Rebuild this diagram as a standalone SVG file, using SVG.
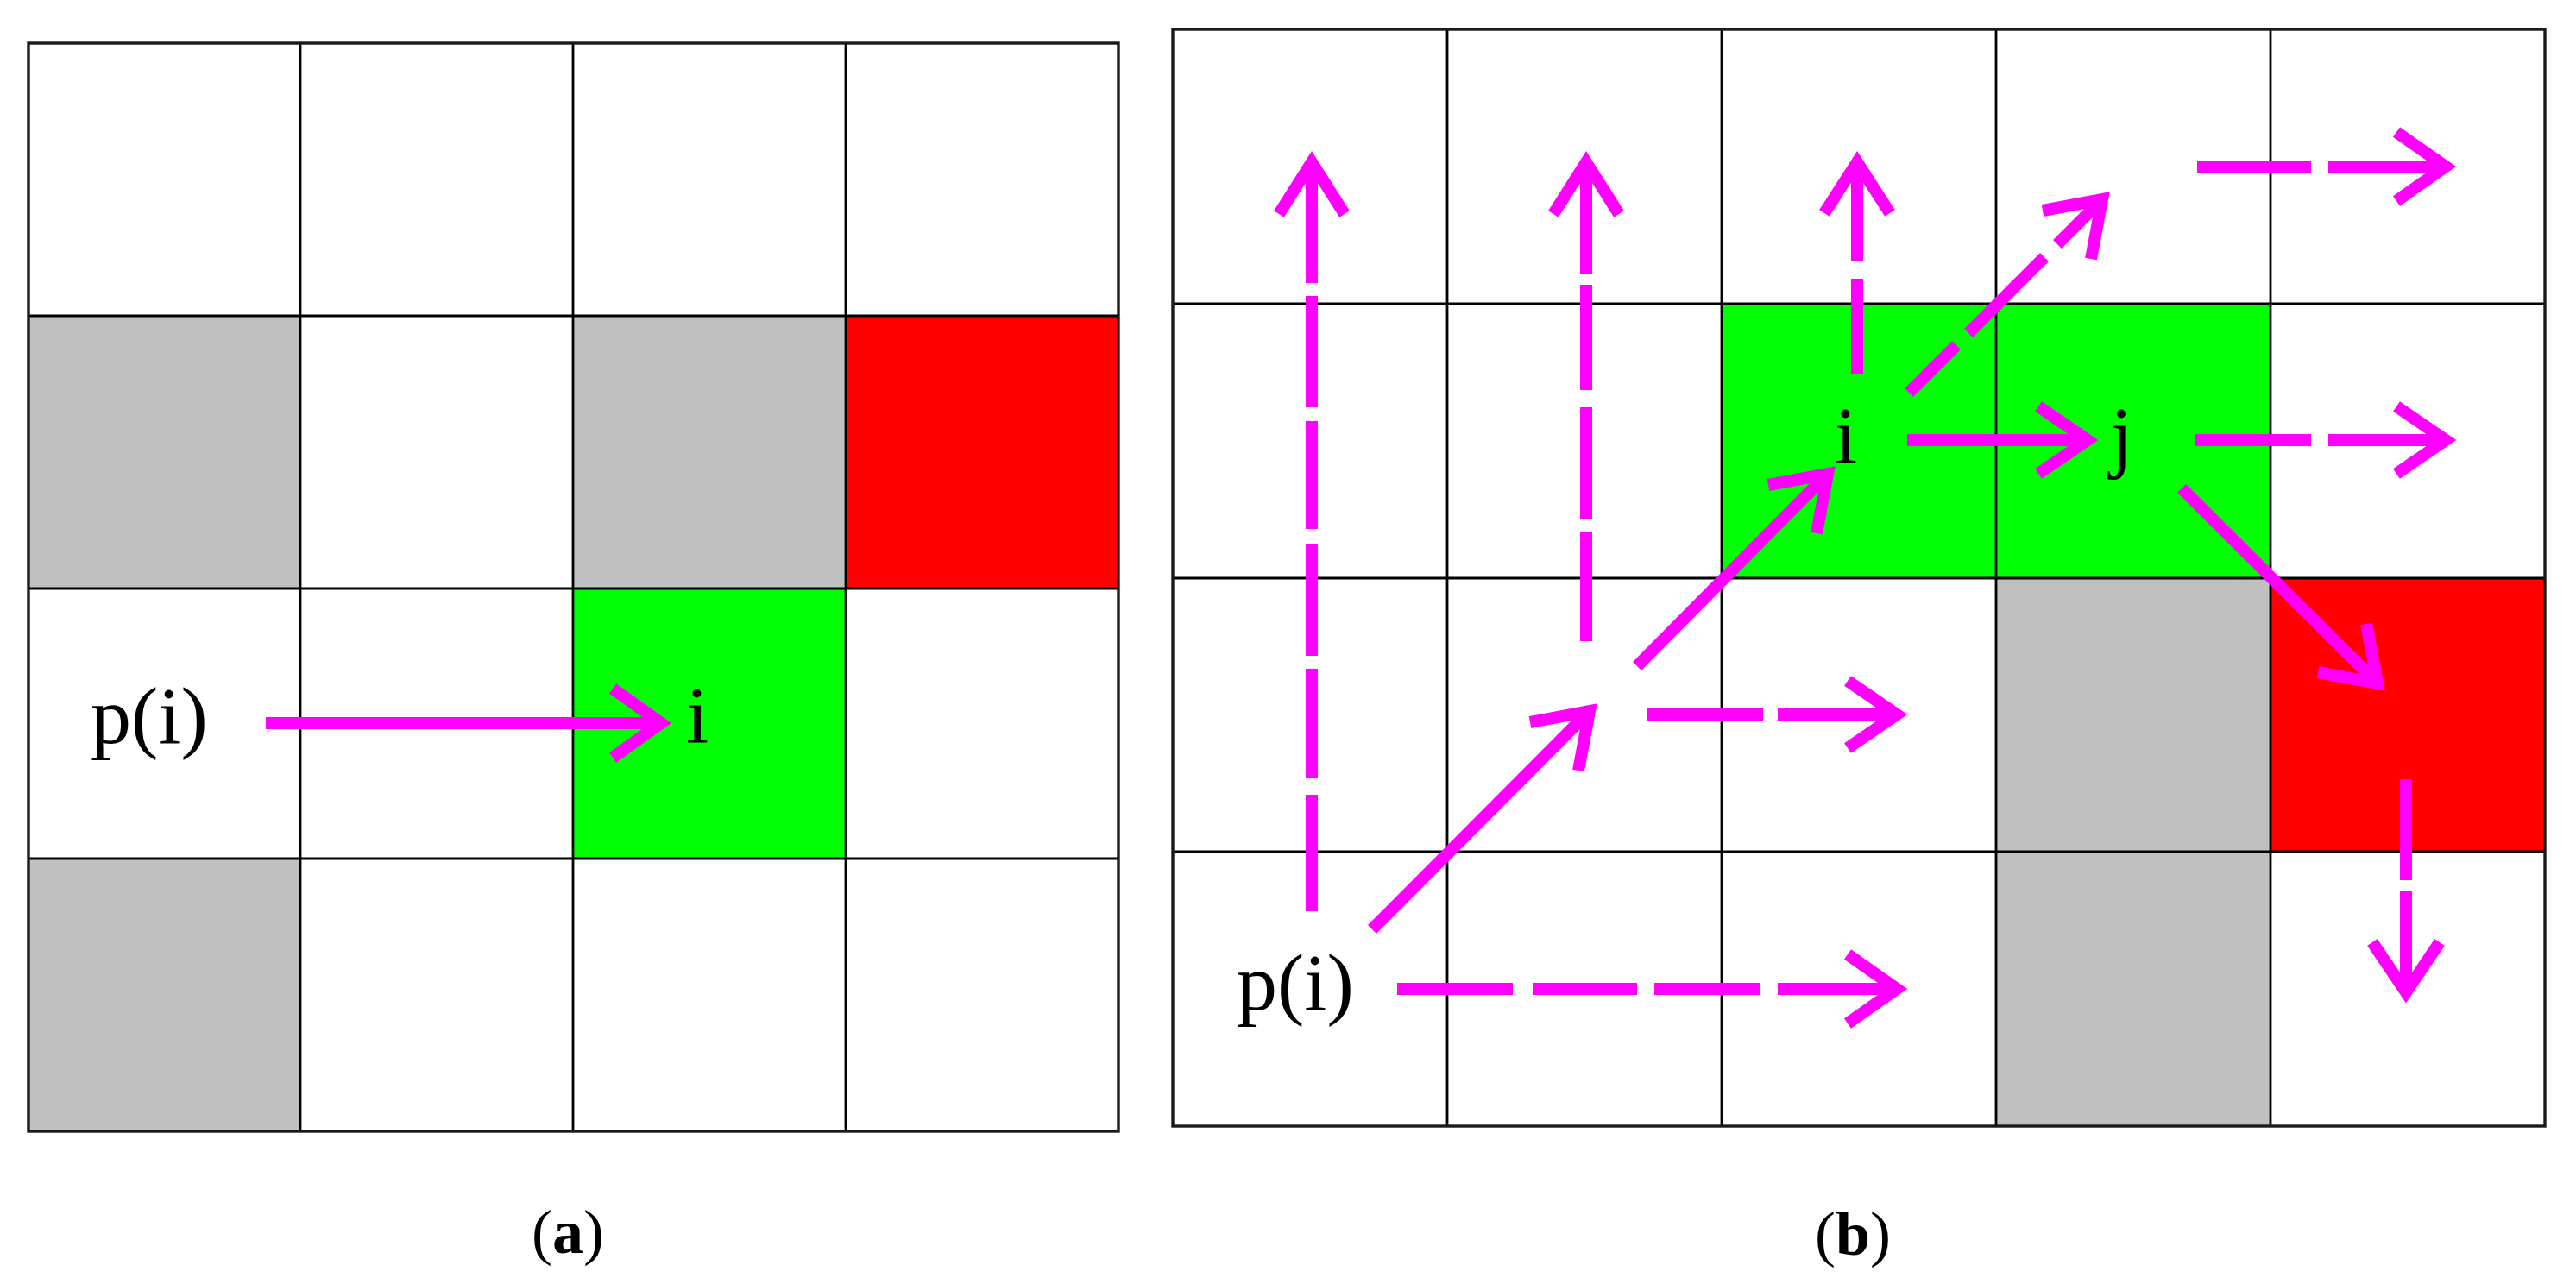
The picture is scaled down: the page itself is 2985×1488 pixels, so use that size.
<svg xmlns="http://www.w3.org/2000/svg" width="2985" height="1488" viewBox="0 0 2985 1488">
<style>
.w{fill:#FFFFFF}
.g{fill:#C0C0C0}
.gr{fill:#00FF00}
.r{fill:#FF0000}
.grid{stroke:#000000;stroke-width:2.8;fill:none}
.border{stroke:#1a1a1a;stroke-width:3.4;fill:none}
.arr{stroke:#FF00FF;stroke-width:14;fill:none;stroke-linecap:butt}
.head{stroke:#FF00FF;stroke-width:14;fill:none;stroke-linecap:butt;stroke-linejoin:miter;stroke-miterlimit:6}
.lbl{font-family:"Liberation Serif","Times New Roman",serif;font-size:94px;fill:#000000}
.cap{font-family:"Liberation Serif","Times New Roman",serif;font-size:72px;fill:#000000;text-anchor:middle}
</style>
<rect x="0" y="0" width="2985" height="1488" fill="#FFFFFF"/>

<g id="grid-a">
  <rect class="w" x="33" y="50" width="1263" height="1261"/>
  <rect id="a-gray1" class="g" x="33" y="366" width="315" height="316"/>
  <rect id="a-gray2" class="g" x="664" y="366" width="316" height="316"/>
  <rect id="a-red" class="r" x="980" y="366" width="316" height="316"/>
  <rect id="a-green" class="gr" x="664" y="682" width="316" height="313"/>
  <rect id="a-gray3" class="g" x="33" y="995" width="315" height="316"/>
  <path class="grid" d="M348 50V1311M664 50V1311M980 50V1311M33 366H1296M33 682H1296M33 995H1296"/>
  <rect class="border" x="33" y="50" width="1263" height="1261"/>
</g>

<g id="grid-b">
  <rect class="w" x="1359" y="34" width="1590" height="1271"/>
  <rect id="b-green-i" class="gr" x="1995" y="352" width="318" height="318"/>
  <rect id="b-green-j" class="gr" x="2313" y="352" width="318" height="318"/>
  <rect id="b-gray1" class="g" x="2313" y="670" width="318" height="317"/>
  <rect id="b-red" class="r" x="2631" y="670" width="318" height="317"/>
  <rect id="b-gray2" class="g" x="2313" y="987" width="318" height="318"/>
  <path class="grid" d="M1677 34V1305M1995 34V1305M2313 34V1305M2631 34V1305M1359 352H2949M1359 670H2949M1359 987H2949"/>
  <rect class="border" x="1359" y="34" width="1590" height="1271"/>
</g>

<g id="labels">
  <g id="a-p"><text class="lbl" x="105" y="861">p(i)</text></g>
  <g id="a-i"><text class="lbl" x="795" y="860">i</text></g>
  <g id="b-i"><text class="lbl" x="2126" y="536">i</text></g>
  <g id="b-j"><text class="lbl" x="2445" y="536">j</text></g>
  <g id="b-p"><text class="lbl" x="1433" y="1170">p(i)</text></g>
</g>

<g id="connectors">
  <g id="a-arrow">
    <path class="arr" d="M308 838H764"/>
    <path class="head" d="M710 798L766 838L710 878"/>
  </g>
  <g id="b-up-col0">
    <path class="arr" d="M1520 1056V921M1520 902V775M1520 760V631M1520 613V488M1520 472V343M1520 328V192"/>
    <path class="head" d="M1482 248L1520 188L1558 248"/>
  </g>
  <g id="b-up-col1">
    <path class="arr" d="M1838 743V617M1838 602V472M1838 452V330M1838 317V192"/>
    <path class="head" d="M1800 248L1838 188L1876 248"/>
  </g>
  <g id="b-up-i">
    <path class="arr" d="M2152 433V323M2152 303V192"/>
    <path class="head" d="M2114 247L2152 188L2190 247"/>
  </g>
  <g id="b-diag-i">
    <path class="arr" d="M2212 455L2267 400M2281 386L2369 298M2384 283L2432 235"/>
    <path class="head" d="M2367 244L2436 231L2423 300"/>
  </g>
  <g id="b-right-top">
    <path class="arr" d="M2546 193H2678M2698 193H2830"/>
    <path class="head" d="M2777 153L2834 193L2777 233"/>
  </g>
  <g id="b-i-j">
    <path class="arr" d="M2210 510H2415"/>
    <path class="head" d="M2362 471L2419 510L2362 549"/>
  </g>
  <g id="b-right-j">
    <path class="arr" d="M2543 510H2678M2698 510H2830"/>
    <path class="head" d="M2777 471L2834 510L2777 549"/>
  </g>
  <g id="b-j-red">
    <path class="arr" d="M2528 566L2751 788"/>
    <path class="head" d="M2742 723L2755 792L2686 779"/>
  </g>
  <g id="b-down-red">
    <path class="arr" d="M2788 903V1020M2788 1033V1146"/>
    <path class="head" d="M2749 1092L2788 1150L2827 1092"/>
  </g>
  <g id="b-right-mid">
    <path class="arr" d="M1908 828H2043M2060 828H2194"/>
    <path class="head" d="M2141 789L2198 828L2141 867"/>
  </g>
  <g id="b-diag-p">
    <path class="arr" d="M1590 1077L1838 828"/>
    <path class="head" d="M1773 837L1842 824L1829 893"/>
  </g>
  <g id="b-diag-mid">
    <path class="arr" d="M1897 772L2114 553"/>
    <path class="head" d="M2049 562L2118 549L2105 618"/>
  </g>
  <g id="b-right-bottom">
    <path class="arr" d="M1619 1146H1753M1776 1146H1897M1917 1146H2040M2060 1146H2194"/>
    <path class="head" d="M2141 1106L2198 1146L2141 1186"/>
  </g>
</g>

<g id="captions">
  <text class="cap" x="658" y="1452">(<tspan font-weight="bold">a</tspan>)</text>
  <text class="cap" x="2147" y="1454">(<tspan font-weight="bold">b</tspan>)</text>
</g>
</svg>
